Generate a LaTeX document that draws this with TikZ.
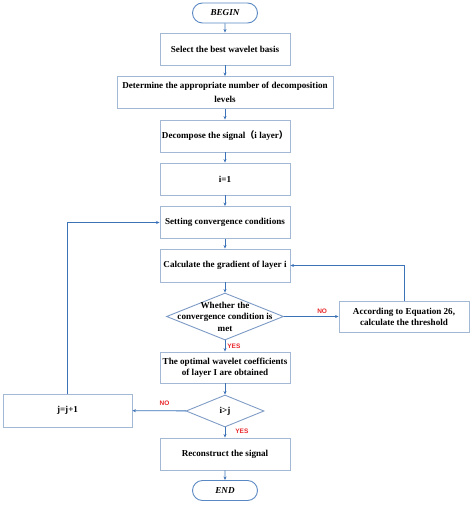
\documentclass[tikz,border=0pt]{standalone}
\usepackage{fontspec}
\setmainfont{Liberation Serif}
\newfontfamily\lblfont{Liberation Sans}
\newfontfamily\cjk{Noto Sans CJK SC}
\usetikzlibrary{shapes.geometric,shapes.misc,arrows.meta}
\definecolor{boxc}{HTML}{A3B8D4}
\definecolor{decc}{HTML}{7F9CC6}
\definecolor{arrc}{HTML}{3C73B8}
\definecolor{lblc}{HTML}{E8262A}
\begin{document}
\begin{tikzpicture}[x=1pt,y=1pt,
  every node/.style={font=\fontsize{9.1}{11}\selectfont\bfseries},
  procbox/.style={draw=boxc,line width=0.9pt,rectangle,inner sep=1pt,align=center,minimum width=130pt,minimum height=32pt},
  termbox/.style={draw=arrc!85,line width=0.9pt,rounded rectangle,minimum width=65pt,minimum height=20pt,inner sep=0pt,font=\fontsize{9.1}{11}\selectfont\bfseries\itshape},
  decbox/.style={draw=decc,line width=0.9pt,diamond,inner sep=0pt},
  arr/.style={draw=arrc,line width=0.8pt,-{Stealth[length=3.5pt,width=3pt]}},
  lbl/.style={font=\lblfont\fontsize{6.5}{7}\selectfont\bfseries,text=lblc,inner sep=0pt}]
\useasboundingbox (0,0) rectangle (474,-505);
\node[termbox] (begin) at (225,-13) {BEGIN};
\node[procbox] (sel) at (225,-49) {Select the best wavelet basis};
\node[procbox,minimum width=216pt,font=\fontsize{9.1}{13.5}\selectfont\bfseries] (det) at (225,-92.5) {Determine the appropriate number of decomposition\\levels};
\node[procbox] (dec) at (225,-136) {Decompose the signal{\cjk （}i layer{\cjk ）}};
\node[procbox] (ione) at (225,-179) {i=1};
\node[procbox] (set) at (225,-222.5) {Setting convergence conditions};
\node[procbox,minimum height=33pt] (calc) at (225,-265.5) {Calculate the gradient of layer i};
\node[decbox,minimum width=117pt,minimum height=47pt] (d1) at (225,-316.5) {};
\node[align=center,font=\fontsize{9.1}{11.5}\selectfont\bfseries] at (d1) {Whether the\\convergence condition is\\met};
\node[procbox,minimum height=31pt] (thr) at (404,-316.5) {According to Equation 26,\\calculate the threshold};
\node[procbox,minimum height=31pt] (opt) at (225,-367.5) {The optimal wavelet coefficients\\of layer I are obtained};
\node[decbox,minimum width=78pt,minimum height=32pt] (d2) at (225,-411) {};
\node at (d2) {i>j};
\node[procbox,minimum width=129pt,minimum height=33pt] (jj) at (67.5,-410.5) {j=j+1};
\node[procbox] (rec) at (225,-454) {Reconstruct the signal};
\node[termbox] (end) at (225,-490.5) {END};
\draw[arr] (begin) -- (sel);
\draw[arr] (sel) -- (det);
\draw[arr] (det) -- (dec);
\draw[arr] (dec) -- (ione);
\draw[arr] (ione) -- (set);
\draw[arr] (set) -- (calc);
\draw[arr] (calc) -- (d1);
\draw[arr] (d1) -- node[lbl,above,pos=0.7,yshift=3pt]{NO} (thr);
\draw[arr] (thr.north) |- (calc.east);
\draw[arr] (d1) -- node[lbl,right,xshift=2pt]{YES} (opt);
\draw[arr] (opt) -- (d2);
\draw[arr] (d2) -- node[lbl,above,pos=0.4,yshift=5pt]{NO} (jj);
\draw[arr] (jj.north) |- (set.west);
\draw[arr] (d2) -- node[lbl,right,xshift=10pt,yshift=1pt]{YES} (rec);
\draw[arr] (rec) -- (end);
\end{tikzpicture}
\end{document}
